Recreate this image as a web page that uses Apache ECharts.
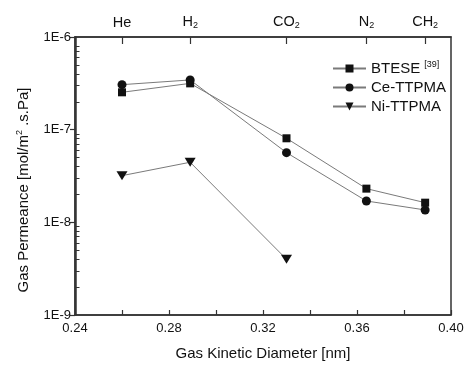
<!DOCTYPE html>
<html>
<head>
<meta charset="utf-8">
<script src="https://cdn.jsdelivr.net/npm/echarts@6/dist/echarts.min.js"></script>
<style>html,body{margin:0;padding:0;background:#fff}#c{width:474px;height:379px}</style>
</head>
<body>
<div id="c"></div>
<script>
const gasNames = ['He', 'H2', 'CO2', 'N2', 'CH2'];
const gasLabels = ['He', 'H{sub|2}', 'CO{sub|2}', 'N{sub|2}', 'CH{sub|2}'];
const diameters = [0.26, 0.289, 0.330, 0.364, 0.389];
const btese = [2.53e-7, 3.16e-7, 8.07e-8, 2.31e-8, 1.63e-8];
const ceTTPMA = [3.06e-7, 3.44e-7, 5.65e-8, 1.70e-8, 1.36e-8];
const niTTPMA = [3.19e-8, 4.45e-8, 4.0e-9];
const yTickLabels = ['1E-9', '1E-8', '1E-7', '1E-6'];

const minorLogTicks = [];
for (let e = -9; e < -6; e++) {
  for (let k = 2; k <= 9; k++) minorLogTicks.push(e + Math.log10(k));
}

function pairs(vals) { return vals.map((v, i) => [diameters[i], v]); }

const font = 'Liberation Sans, Arial, sans-serif';
const axisColor = '#333';
const lineColor = '#7a7a7a';

const chart = echarts.init(document.getElementById('c'));
chart.setOption({
  animation: false,
  backgroundColor: '#fff',
  textStyle: { fontFamily: font },
  grid: { left: 75, right: 23, top: 37, bottom: 64, show: true, borderColor: axisColor, borderWidth: 1.5, backgroundColor: 'transparent' },
  legend: {
    orient: 'vertical', left: 327, top: 55,
    itemWidth: 33, itemHeight: 10, itemGap: 2,
    textStyle: { fontSize: 15, color: '#111', fontFamily: font, lineHeight: 17,
      rich: { sup: { fontSize: 9, verticalAlign: 'top', padding: [0, 0, 8, 0], fontFamily: font, color: '#111' } } },
    formatter: function (n) { return n === 'BTESE' ? 'BTESE {sup|[39]}' : n; },
    data: ['BTESE', 'Ce-TTPMA', 'Ni-TTPMA']
  },
  xAxis: [
    {
      type: 'value', position: 'bottom', min: 0.24, max: 0.40, interval: 0.04,
      name: 'Gas Kinetic Diameter [nm]', nameLocation: 'middle', nameGap: 31,
      nameTextStyle: { fontSize: 15, color: '#111', fontFamily: font },
      axisLine: { show: true, lineStyle: { color: axisColor, width: 1.5 } },
      axisTick: { show: true, inside: true, length: 5, lineStyle: { color: axisColor, width: 1.2 } },
      minorTick: { show: true, splitNumber: 2, length: 5, lineStyle: { color: axisColor, width: 1.2 } },
      axisLabel: { fontSize: 13, color: '#111', margin: 7, formatter: v => v.toFixed(2) },
      splitLine: { show: false }
    },
    {
      type: 'value', position: 'top', min: 0.24, max: 0.40,
      axisLine: { show: true, lineStyle: { color: axisColor, width: 1.5 } },
      axisTick: { show: true, inside: true, length: 7, customValues: diameters, lineStyle: { color: axisColor, width: 1.2 } },
      axisLabel: {
        fontSize: 14.5, color: '#111', margin: 7, customValues: diameters,
        formatter: function (v) {
          let best = 0;
          diameters.forEach((d, i) => { if (Math.abs(d - v) < Math.abs(diameters[best] - v)) best = i; });
          return gasLabels[best];
        },
        rich: { sub: { fontSize: 9, verticalAlign: 'bottom', padding: [8, 0, 0, 0], color: '#111', fontFamily: font } }
      },
      splitLine: { show: false }
    }
  ],
  yAxis: [
    {
      type: 'log', logBase: 10, min: 1e-9, max: 1e-6, position: 'left',
      name: 'Gas Permeance [mol/m{sup|2} .s.Pa]', nameLocation: 'middle', nameGap: 43,
      nameTextStyle: { fontSize: 15, color: '#111', fontFamily: font, padding: [0, 28, 0, 0],
        rich: { sup: { fontSize: 9, verticalAlign: 'top', padding: [0, 0, 8, 0], color: '#111', fontFamily: font } } },
      axisLine: { show: true, lineStyle: { color: axisColor, width: 1.5 } },
      axisTick: { show: true, inside: false, length: 5, lineStyle: { color: axisColor, width: 1.2 } },
      axisLabel: { fontSize: 13, color: '#111', margin: 4,
        formatter: function (v) { const e = Math.round(Math.log10(v)); return yTickLabels[e + 9]; } },
      splitLine: { show: false }
    },
    {
      type: 'value', min: -9, max: -6, position: 'left', offset: -0.5,
      axisLine: { show: true, lineStyle: { color: axisColor, width: 1.5 } },
      axisTick: { show: true, inside: true, length: 4, customValues: minorLogTicks, lineStyle: { color: axisColor, width: 1 } },
      axisLabel: { show: true, customValues: minorLogTicks, fontSize: 6, color: 'rgba(255,255,255,0)', formatter: () => '.' },
      splitLine: { show: false }
    }
  ],
  series: [
    {
      name: 'BTESE', type: 'line', xAxisIndex: 0, yAxisIndex: 0, data: pairs(btese),
      symbol: 'rect', symbolSize: 8,
      lineStyle: { color: lineColor, width: 1 }, itemStyle: { color: '#111' }
    },
    {
      name: 'Ce-TTPMA', type: 'line', xAxisIndex: 0, yAxisIndex: 0, data: pairs(ceTTPMA),
      symbol: 'circle', symbolSize: 9,
      lineStyle: { color: lineColor, width: 1 }, itemStyle: { color: '#111' }
    },
    {
      name: 'Ni-TTPMA', type: 'line', xAxisIndex: 0, yAxisIndex: 0, data: pairs(niTTPMA),
      symbol: 'triangle', symbolSize: [11, 9], symbolRotate: 180,
      lineStyle: { color: lineColor, width: 1 }, itemStyle: { color: '#111' }
    }
  ]
});
</script>
</body>
</html>
